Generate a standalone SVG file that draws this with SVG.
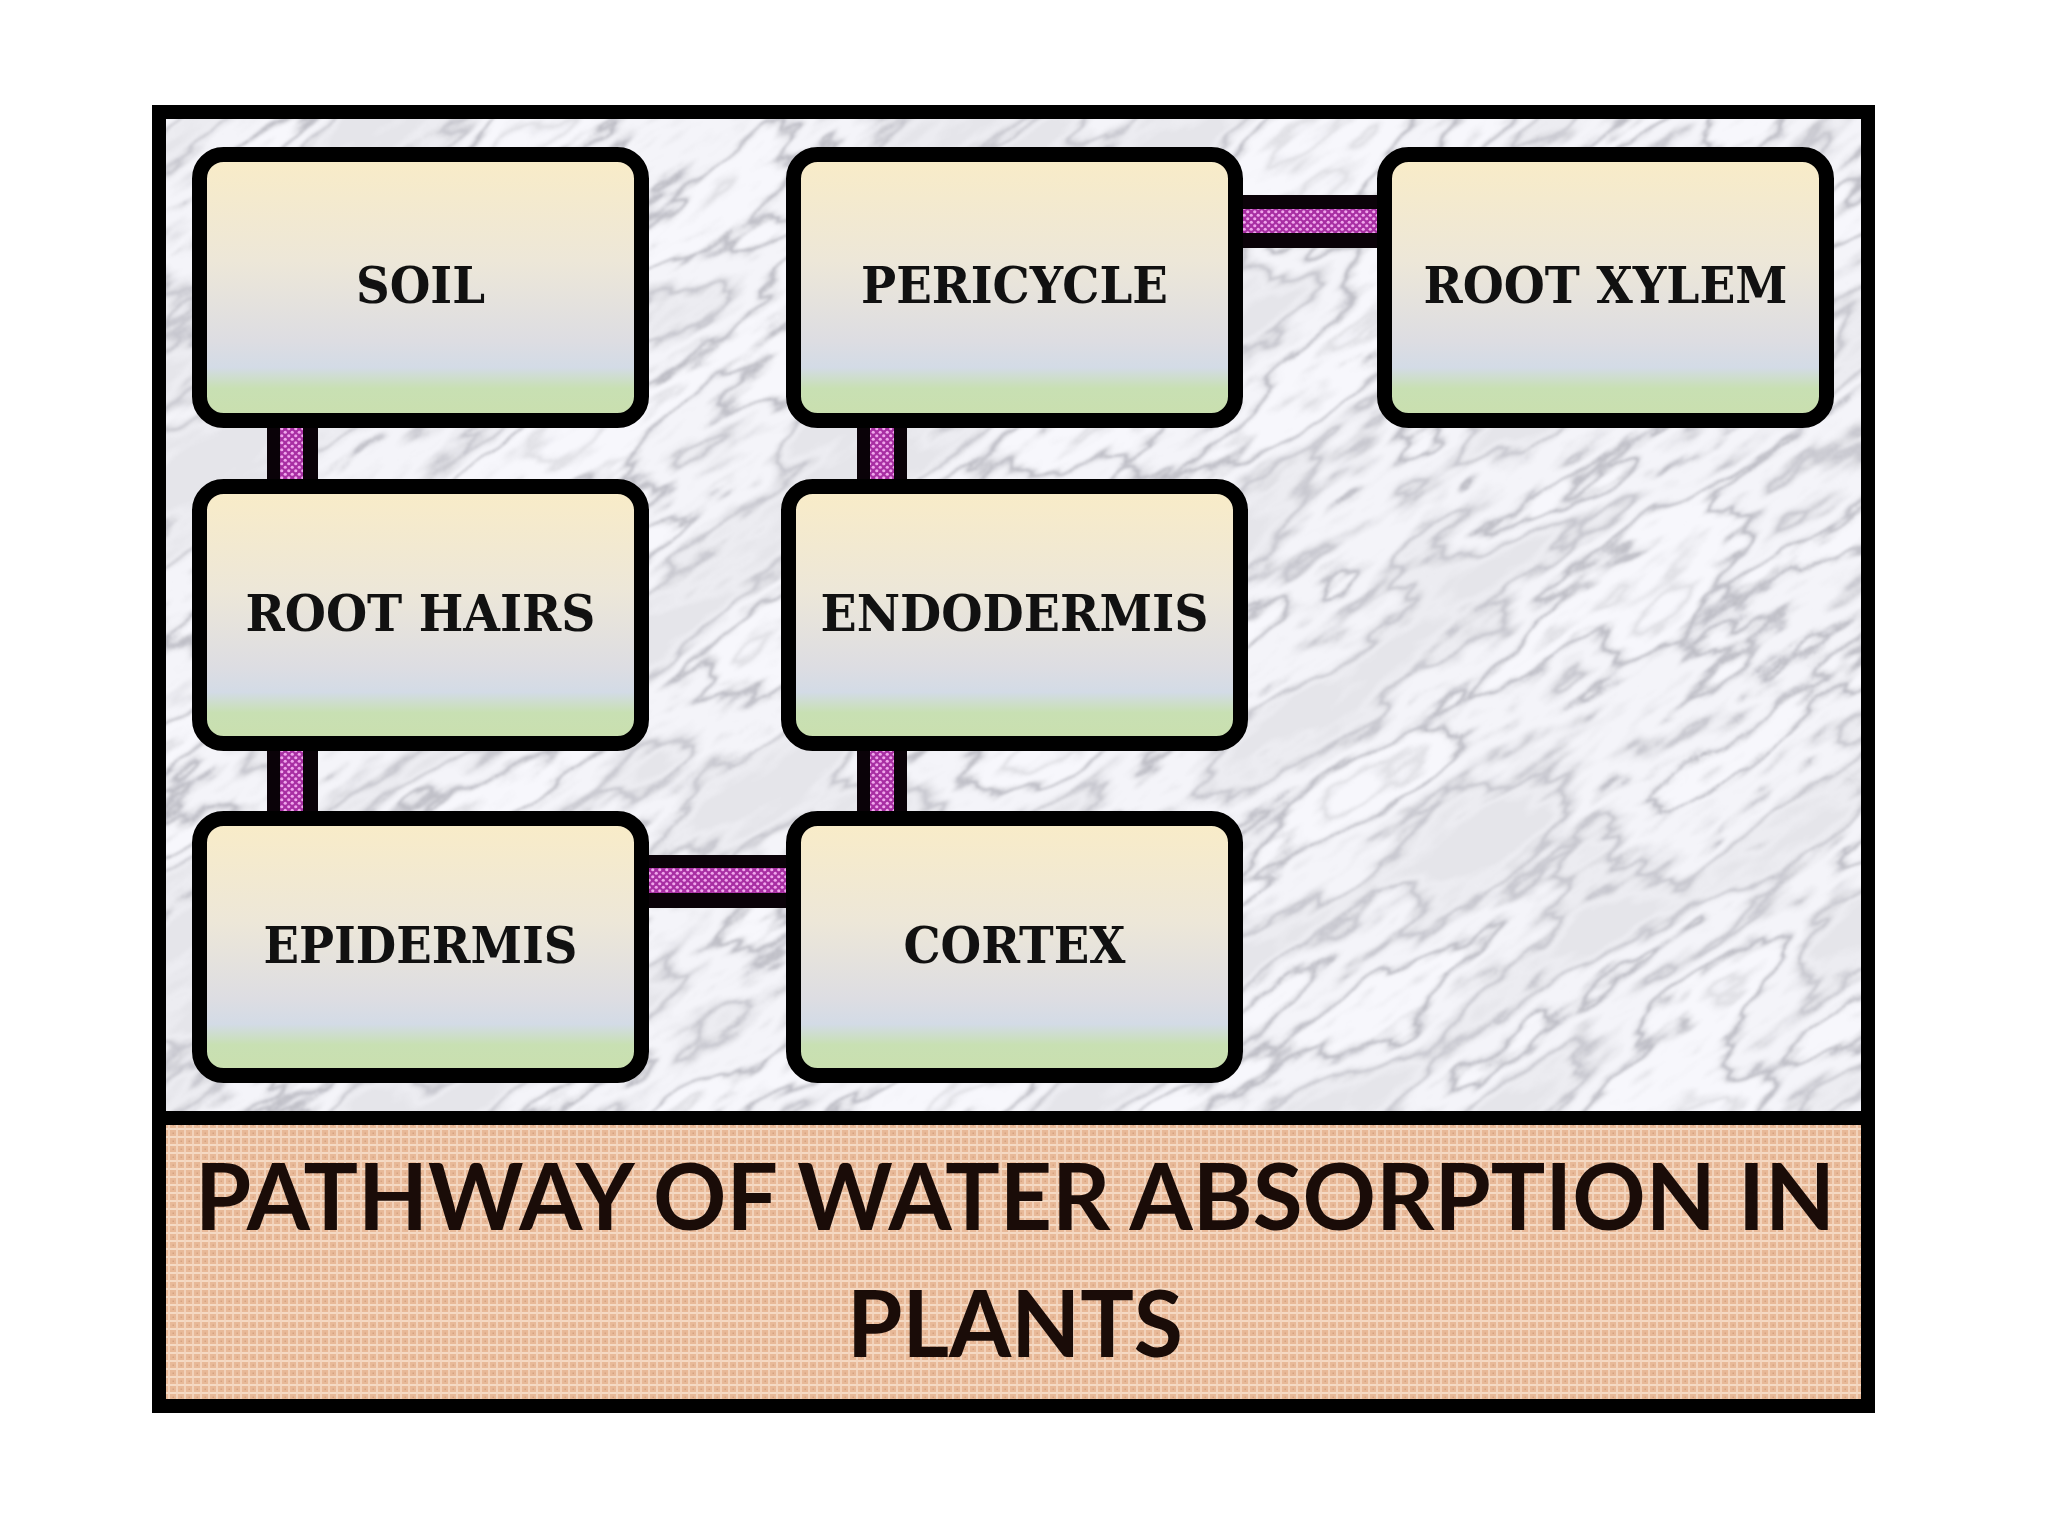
<svg xmlns="http://www.w3.org/2000/svg" width="2048" height="1536" viewBox="0 0 2048 1536">
<defs>
<style>
.box{stroke:#000;stroke-width:15;fill:url(#boxg)}
.lbl{font-family:"DejaVu Serif","Liberation Serif",serif;font-weight:bold;font-size:50px;fill:#111;text-anchor:middle}
.title{font-family:Lato,"Open Sans","Liberation Sans",sans-serif;font-weight:bold;font-size:92px;fill:#1a0c08;text-anchor:middle}
.cb{fill:#0a0208}
.cp{fill:url(#pinkdots)}
</style>
<linearGradient id="boxg" x1="0" y1="0" x2="0" y2="1">
<stop offset="0" stop-color="#f9ecc7"/>
<stop offset="0.4" stop-color="#ede7d8"/>
<stop offset="0.7" stop-color="#dddde2"/>
<stop offset="0.8" stop-color="#d3dbe6"/>
<stop offset="0.88" stop-color="#c8e0b3"/>
<stop offset="1" stop-color="#cadfae"/>
</linearGradient>
<pattern id="pinkdots" width="7" height="7" patternUnits="userSpaceOnUse">
<rect width="7" height="7" fill="#a82fa3"/>
<circle cx="1.75" cy="1.75" r="1.6" fill="#f0a6ec"/>
<circle cx="5.25" cy="5.25" r="1.6" fill="#f0a6ec"/>
</pattern>
<pattern id="burlap" width="8" height="8" patternUnits="userSpaceOnUse">
<rect width="8" height="8" fill="#e8b998"/>
<rect x="0" y="0" width="8" height="2" fill="#f7dfcc" opacity="0.85"/>
<rect x="0" y="0" width="2" height="8" fill="#f4d6c0" opacity="0.85"/>
<rect x="4.5" y="4.5" width="1.5" height="1.5" fill="#d29c7c" opacity="0.8"/>
</pattern>
<clipPath id="marbleClip"><rect x="166" y="119" width="1695" height="992"/></clipPath>
<filter id="marbleF" x="0" y="0" width="1" height="1" color-interpolation-filters="sRGB">
<feTurbulence type="fractalNoise" baseFrequency="0.0035 0.011" numOctaves="5" seed="23" result="n"/>
<feColorMatrix in="n" type="matrix" values="1 0 0 0 0  1 0 0 0 0  1 0 0 0 0  0 0 0 0 1" result="g"/>
<feComponentTransfer in="g" result="m">
<feFuncR type="table" tableValues="0.9 0.9 0.9 0.9 0.9 0.9 0.9 0.9 0.9 0.9 0.9 0.9 0.9 0.9 0.9 0.9 0.91 0.92 0.93 0.92 0.88 0.78 0.88 0.93 0.95 0.96 0.96 0.95 0.9 0.74 0.9 0.96 0.97 0.97 0.97 0.96 0.93 0.88 0.93 0.96 0.97 0.97 0.97 0.97 0.97 0.97 0.97 0.97 0.97 0.97 0.97"/>
<feFuncG type="table" tableValues="0.9 0.9 0.9 0.9 0.9 0.9 0.9 0.9 0.9 0.9 0.9 0.9 0.9 0.9 0.9 0.9 0.91 0.92 0.93 0.92 0.88 0.78 0.88 0.93 0.95 0.96 0.96 0.95 0.9 0.74 0.9 0.96 0.97 0.97 0.97 0.96 0.93 0.88 0.93 0.96 0.97 0.97 0.97 0.97 0.97 0.97 0.97 0.97 0.97 0.97 0.97"/>
<feFuncB type="table" tableValues="0.92 0.92 0.92 0.92 0.92 0.92 0.92 0.92 0.92 0.92 0.92 0.92 0.92 0.92 0.92 0.92 0.93 0.94 0.95 0.94 0.9 0.81 0.9 0.95 0.97 0.98 0.98 0.97 0.92 0.77 0.92 0.98 0.99 0.99 0.99 0.98 0.95 0.9 0.95 0.98 0.99 0.99 0.99 0.99 0.99 0.99 0.99 0.99 0.99 0.99 0.99"/>
</feComponentTransfer>
<feGaussianBlur in="m" stdDeviation="1.2"/>
</filter>
</defs>
<rect x="0" y="0" width="2048" height="1536" fill="#ffffff"/>
<g id="background">
<g clip-path="url(#marbleClip)">
<rect x="-37" y="-435" width="2100" height="2100" fill="#e8e9ec" filter="url(#marbleF)" transform="rotate(-35 1013 615)"/>
</g>
<rect x="166" y="1125" width="1695" height="274" fill="url(#burlap)"/>
<rect x="159" y="112" width="1709" height="1294" fill="none" stroke="#000" stroke-width="14"/>
<line x1="159" y1="1118" x2="1868" y2="1118" stroke="#000" stroke-width="14"/>
</g>
<g id="connectors">
<g id="c-soil-roothairs"><rect class="cb" x="267" y="420" width="51" height="67"/><rect class="cp" x="280" y="420" width="23" height="67"/></g>
<g id="c-roothairs-epidermis"><rect class="cb" x="267" y="743" width="51" height="76"/><rect class="cp" x="280" y="743" width="23" height="76"/></g>
<g id="c-epidermis-cortex"><rect class="cb" x="640" y="855" width="155" height="53"/><rect class="cp" x="640" y="868" width="155" height="25"/></g>
<g id="c-cortex-endodermis"><rect class="cb" x="857" y="743" width="50" height="76"/><rect class="cp" x="870" y="743" width="24" height="76"/></g>
<g id="c-endodermis-pericycle"><rect class="cb" x="857" y="420" width="50" height="67"/><rect class="cp" x="870" y="420" width="24" height="67"/></g>
<g id="c-pericycle-rootxylem"><rect class="cb" x="1235" y="195" width="150" height="53"/><rect class="cp" x="1235" y="209" width="150" height="24"/></g>
</g>
<g id="node-soil"><rect class="box" x="199.5" y="154.5" width="442" height="266" rx="24"/><text class="lbl" x="420.5" y="303" textLength="129" lengthAdjust="spacingAndGlyphs">SOIL</text></g>
<g id="node-root-hairs"><rect class="box" x="199.5" y="486.5" width="442" height="257" rx="24"/><text class="lbl" x="420.5" y="631" textLength="350" lengthAdjust="spacingAndGlyphs">ROOT HAIRS</text></g>
<g id="node-epidermis"><rect class="box" x="199.5" y="818.5" width="442" height="257" rx="24"/><text class="lbl" x="420.5" y="963" textLength="314" lengthAdjust="spacingAndGlyphs">EPIDERMIS</text></g>
<g id="node-pericycle"><rect class="box" x="793.5" y="154.5" width="442" height="266" rx="24"/><text class="lbl" x="1014.5" y="303" textLength="307" lengthAdjust="spacingAndGlyphs">PERICYCLE</text></g>
<g id="node-endodermis"><rect class="box" x="788.5" y="486.5" width="452" height="257" rx="24"/><text class="lbl" x="1014.5" y="631" textLength="388" lengthAdjust="spacingAndGlyphs">ENDODERMIS</text></g>
<g id="node-cortex"><rect class="box" x="793.5" y="818.5" width="442" height="257" rx="24"/><text class="lbl" x="1014.5" y="963" textLength="222" lengthAdjust="spacingAndGlyphs">CORTEX</text></g>
<g id="node-root-xylem"><rect class="box" x="1384.5" y="154.5" width="442" height="266" rx="24"/><text class="lbl" x="1605.5" y="303" textLength="364" lengthAdjust="spacingAndGlyphs">ROOT XYLEM</text></g>
<g id="title">
<text class="title" x="1015" y="1230" textLength="1640" lengthAdjust="spacingAndGlyphs">PATHWAY OF WATER ABSORPTION IN</text>
<text class="title" x="1015" y="1357" textLength="336" lengthAdjust="spacingAndGlyphs">PLANTS</text>
</g>
</svg>
